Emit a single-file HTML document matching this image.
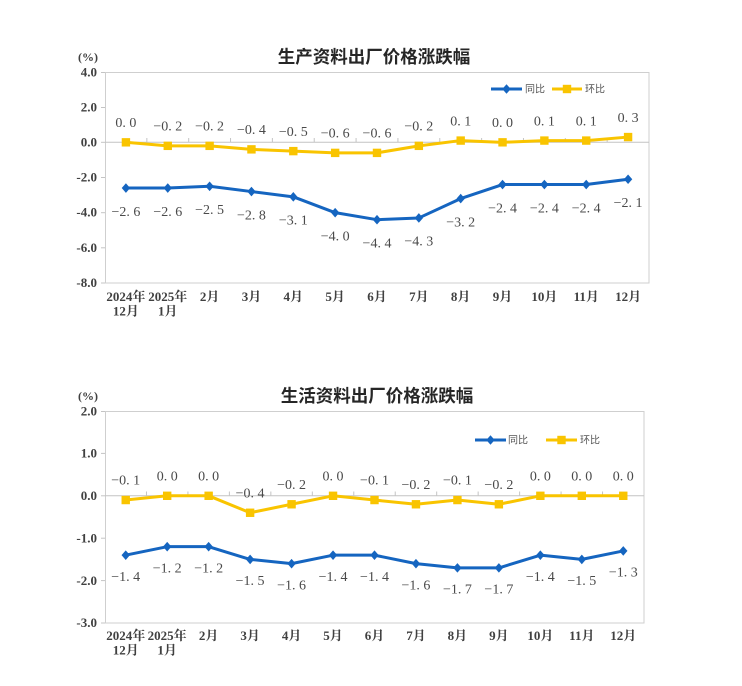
<!DOCTYPE html>
<html><head><meta charset="utf-8"><style>
html,body{margin:0;padding:0;background:#fff;}
svg{display:block;}
.yl{font-family:"Liberation Serif","Noto Serif CJK SC",serif;font-weight:bold;font-size:13px;fill:#404040;text-anchor:end;}
.xl{font-family:"Liberation Serif","Noto Serif CJK SC",serif;font-weight:bold;font-size:13px;fill:#404040;text-anchor:middle;}
.dl{font-family:"Liberation Serif","Noto Serif CJK SC",serif;font-size:14px;fill:#4a4a4a;text-anchor:middle;}
.tt{font-family:"Liberation Sans","Noto Sans CJK SC",sans-serif;font-weight:bold;font-size:17.5px;fill:#262626;text-anchor:middle;}
.pc{font-family:"Liberation Serif",serif;font-weight:bold;font-size:12px;fill:#404040;text-anchor:middle;}
.lg{font-family:"Liberation Sans","Noto Sans CJK SC",sans-serif;font-size:10px;fill:#555;}
</style></head><body>
<svg width="742" height="686" viewBox="0 0 742 686" xmlns="http://www.w3.org/2000/svg">
<defs>
<path id="dm" d="M0,-4.8 L4.2,0 L0,4.8 L-4.2,0 Z" fill="#1565c0"/>
<rect id="sq" x="-4.2" y="-4.2" width="8.4" height="8.4" fill="#f9c400"/>
</defs>
<rect width="742" height="686" fill="#fff"/>

<!-- ============ TOP CHART ============ -->
<text class="tt" x="374" y="63">生产资料出厂价格涨跌幅</text>
<text class="pc" x="88" y="61">(%)</text>
<rect x="105.5" y="72.5" width="543.5" height="210.5" fill="none" stroke="#cfcfcf" stroke-width="1"/>
<line x1="105" y1="142.3" x2="649" y2="142.3" stroke="#c4c4c4" stroke-width="1"/>
<g stroke="#c4c4c4" stroke-width="1">
<line x1="101" y1="72.5" x2="105" y2="72.5"/><line x1="101" y1="107.5" x2="105" y2="107.5"/><line x1="101" y1="142.3" x2="105" y2="142.3"/><line x1="101" y1="177.5" x2="105" y2="177.5"/><line x1="101" y1="212.7" x2="105" y2="212.7"/><line x1="101" y1="247.8" x2="105" y2="247.8"/><line x1="101" y1="283" x2="105" y2="283"/>
<line x1="146.85" y1="138" x2="146.85" y2="142.3"/><line x1="188.69" y1="138" x2="188.69" y2="142.3"/><line x1="230.54" y1="138" x2="230.54" y2="142.3"/><line x1="272.38" y1="138" x2="272.38" y2="142.3"/><line x1="314.23" y1="138" x2="314.23" y2="142.3"/><line x1="356.08" y1="138" x2="356.08" y2="142.3"/><line x1="397.92" y1="138" x2="397.92" y2="142.3"/><line x1="439.77" y1="138" x2="439.77" y2="142.3"/><line x1="481.62" y1="138" x2="481.62" y2="142.3"/><line x1="523.46" y1="138" x2="523.46" y2="142.3"/><line x1="565.31" y1="138" x2="565.31" y2="142.3"/><line x1="607.15" y1="138" x2="607.15" y2="142.3"/>
</g>
<text class="yl" x="97" y="76.5">4.0</text>
<text class="yl" x="97" y="111.5">2.0</text>
<text class="yl" x="97" y="146.5">0.0</text>
<text class="yl" x="97" y="181.5">-2.0</text>
<text class="yl" x="97" y="216.5">-4.0</text>
<text class="yl" x="97" y="252">-6.0</text>
<text class="yl" x="97" y="287">-8.0</text>

<polyline fill="none" stroke="#f9c400" stroke-width="3" stroke-linejoin="round" points="125.92,142.33 167.77,145.85 209.62,145.85 251.46,149.36 293.31,151.12 335.15,152.88 377,152.88 418.85,145.85 460.69,140.57 502.54,142.33 544.38,140.57 586.23,140.57 628.08,137.06"/>
<g>
<use href="#sq" x="125.92" y="142.33"/><use href="#sq" x="167.77" y="145.85"/><use href="#sq" x="209.62" y="145.85"/><use href="#sq" x="251.46" y="149.36"/><use href="#sq" x="293.31" y="151.12"/><use href="#sq" x="335.15" y="152.88"/><use href="#sq" x="377" y="152.88"/><use href="#sq" x="418.85" y="145.85"/><use href="#sq" x="460.69" y="140.57"/><use href="#sq" x="502.54" y="142.33"/><use href="#sq" x="544.38" y="140.57"/><use href="#sq" x="586.23" y="140.57"/><use href="#sq" x="628.08" y="137.06"/>
</g>
<polyline fill="none" stroke="#1565c0" stroke-width="3" stroke-linejoin="round" points="125.92,188.05 167.77,188.05 209.62,186.29 251.46,191.56 293.31,196.84 335.15,212.66 377,219.7 418.85,217.94 460.69,198.6 502.54,184.53 544.38,184.53 586.23,184.53 628.08,179.25"/>
<g>
<use href="#dm" x="125.92" y="188.05"/><use href="#dm" x="167.77" y="188.05"/><use href="#dm" x="209.62" y="186.29"/><use href="#dm" x="251.46" y="191.56"/><use href="#dm" x="293.31" y="196.84"/><use href="#dm" x="335.15" y="212.66"/><use href="#dm" x="377" y="219.7"/><use href="#dm" x="418.85" y="217.94"/><use href="#dm" x="460.69" y="198.6"/><use href="#dm" x="502.54" y="184.53"/><use href="#dm" x="544.38" y="184.53"/><use href="#dm" x="586.23" y="184.53"/><use href="#dm" x="628.08" y="179.25"/>
</g>
<!-- yellow labels -->
<text class="dl" x="125.92" y="127">0. 0</text>
<text class="dl" x="167.77" y="130.5">−0. 2</text>
<text class="dl" x="209.62" y="130.5">−0. 2</text>
<text class="dl" x="251.46" y="134.1">−0. 4</text>
<text class="dl" x="293.31" y="135.8">−0. 5</text>
<text class="dl" x="335.15" y="137.6">−0. 6</text>
<text class="dl" x="377" y="137.6">−0. 6</text>
<text class="dl" x="418.85" y="130.5">−0. 2</text>
<text class="dl" x="460.69" y="125.3">0. 1</text>
<text class="dl" x="502.54" y="127">0. 0</text>
<text class="dl" x="544.38" y="125.3">0. 1</text>
<text class="dl" x="586.23" y="125.3">0. 1</text>
<text class="dl" x="628.08" y="121.8">0. 3</text>
<!-- blue labels -->
<text class="dl" x="125.92" y="215.8">−2. 6</text>
<text class="dl" x="167.77" y="215.8">−2. 6</text>
<text class="dl" x="209.62" y="214.1">−2. 5</text>
<text class="dl" x="251.46" y="219.3">−2. 8</text>
<text class="dl" x="293.31" y="224.6">−3. 1</text>
<text class="dl" x="335.15" y="240.5">−4. 0</text>
<text class="dl" x="377" y="247.5">−4. 4</text>
<text class="dl" x="418.85" y="245.7">−4. 3</text>
<text class="dl" x="460.69" y="226.4">−3. 2</text>
<text class="dl" x="502.54" y="212.3">−2. 4</text>
<text class="dl" x="544.38" y="212.3">−2. 4</text>
<text class="dl" x="586.23" y="212.3">−2. 4</text>
<text class="dl" x="628.08" y="207.1">−2. 1</text>
<!-- legend -->
<line x1="491" y1="89" x2="522" y2="89" stroke="#1565c0" stroke-width="3"/>
<use href="#dm" x="506.5" y="89"/>
<text class="lg" x="525" y="92.5">同比</text>
<line x1="552" y1="89" x2="582" y2="89" stroke="#f9c400" stroke-width="3"/>
<use href="#sq" x="567" y="89"/>
<text class="lg" x="585" y="92.5">环比</text>
<!-- x labels -->
<text class="xl" x="125.92" y="301">2024年</text>
<text class="xl" x="125.92" y="315.5">12月</text>
<text class="xl" x="167.77" y="301">2025年</text>
<text class="xl" x="167.77" y="315.5">1月</text>
<text class="xl" x="209.62" y="301">2月</text>
<text class="xl" x="251.46" y="301">3月</text>
<text class="xl" x="293.31" y="301">4月</text>
<text class="xl" x="335.15" y="301">5月</text>
<text class="xl" x="377" y="301">6月</text>
<text class="xl" x="418.85" y="301">7月</text>
<text class="xl" x="460.69" y="301">8月</text>
<text class="xl" x="502.54" y="301">9月</text>
<text class="xl" x="544.38" y="301">10月</text>
<text class="xl" x="586.23" y="301">11月</text>
<text class="xl" x="628.08" y="301">12月</text>

<!-- ============ BOTTOM CHART ============ -->
<text class="tt" x="377" y="402">生活资料出厂价格涨跌幅</text>
<text class="pc" x="88" y="400">(%)</text>
<rect x="105.5" y="411.5" width="538.5" height="211.5" fill="none" stroke="#cfcfcf" stroke-width="1"/>
<line x1="105" y1="495.8" x2="644" y2="495.8" stroke="#c4c4c4" stroke-width="1"/>
<g stroke="#c4c4c4" stroke-width="1">
<line x1="101" y1="411.5" x2="105" y2="411.5"/><line x1="101" y1="453.4" x2="105" y2="453.4"/><line x1="101" y1="495.8" x2="105" y2="495.8"/><line x1="101" y1="538.2" x2="105" y2="538.2"/><line x1="101" y1="580.6" x2="105" y2="580.6"/><line x1="101" y1="623" x2="105" y2="623"/>
<line x1="146.46" y1="491.5" x2="146.46" y2="495.8"/><line x1="187.92" y1="491.5" x2="187.92" y2="495.8"/><line x1="229.38" y1="491.5" x2="229.38" y2="495.8"/><line x1="270.85" y1="491.5" x2="270.85" y2="495.8"/><line x1="312.31" y1="491.5" x2="312.31" y2="495.8"/><line x1="353.77" y1="491.5" x2="353.77" y2="495.8"/><line x1="395.23" y1="491.5" x2="395.23" y2="495.8"/><line x1="436.69" y1="491.5" x2="436.69" y2="495.8"/><line x1="478.15" y1="491.5" x2="478.15" y2="495.8"/><line x1="519.62" y1="491.5" x2="519.62" y2="495.8"/><line x1="561.08" y1="491.5" x2="561.08" y2="495.8"/><line x1="602.54" y1="491.5" x2="602.54" y2="495.8"/>
</g>
<text class="yl" x="97" y="415.5">2.0</text>
<text class="yl" x="97" y="457.5">1.0</text>
<text class="yl" x="97" y="500">0.0</text>
<text class="yl" x="97" y="542.5">-1.0</text>
<text class="yl" x="97" y="585">-2.0</text>
<text class="yl" x="97" y="627">-3.0</text>

<polyline fill="none" stroke="#f9c400" stroke-width="3" stroke-linejoin="round" points="125.73,500.04 167.19,495.8 208.65,495.8 250.12,512.76 291.58,504.28 333.04,495.8 374.5,500.04 415.96,504.28 457.42,500.04 498.88,504.28 540.35,495.8 581.81,495.8 623.27,495.8"/>
<g>
<use href="#sq" x="125.73" y="500.04"/><use href="#sq" x="167.19" y="495.8"/><use href="#sq" x="208.65" y="495.8"/><use href="#sq" x="250.12" y="512.76"/><use href="#sq" x="291.58" y="504.28"/><use href="#sq" x="333.04" y="495.8"/><use href="#sq" x="374.5" y="500.04"/><use href="#sq" x="415.96" y="504.28"/><use href="#sq" x="457.42" y="500.04"/><use href="#sq" x="498.88" y="504.28"/><use href="#sq" x="540.35" y="495.8"/><use href="#sq" x="581.81" y="495.8"/><use href="#sq" x="623.27" y="495.8"/>
</g>
<polyline fill="none" stroke="#1565c0" stroke-width="3" stroke-linejoin="round" points="125.73,555.16 167.19,546.68 208.65,546.68 250.12,559.4 291.58,563.64 333.04,555.16 374.5,555.16 415.96,563.64 457.42,567.88 498.88,567.88 540.35,555.16 581.81,559.4 623.27,550.92"/>
<g>
<use href="#dm" x="125.73" y="555.16"/><use href="#dm" x="167.19" y="546.68"/><use href="#dm" x="208.65" y="546.68"/><use href="#dm" x="250.12" y="559.4"/><use href="#dm" x="291.58" y="563.64"/><use href="#dm" x="333.04" y="555.16"/><use href="#dm" x="374.5" y="555.16"/><use href="#dm" x="415.96" y="563.64"/><use href="#dm" x="457.42" y="567.88"/><use href="#dm" x="498.88" y="567.88"/><use href="#dm" x="540.35" y="555.16"/><use href="#dm" x="581.81" y="559.4"/><use href="#dm" x="623.27" y="550.92"/>
</g>
<!-- yellow labels -->
<text class="dl" x="125.73" y="484.7">−0. 1</text>
<text class="dl" x="167.19" y="480.5">0. 0</text>
<text class="dl" x="208.65" y="480.5">0. 0</text>
<text class="dl" x="250.12" y="497.5">−0. 4</text>
<text class="dl" x="291.58" y="489">−0. 2</text>
<text class="dl" x="333.04" y="480.5">0. 0</text>
<text class="dl" x="374.5" y="484.7">−0. 1</text>
<text class="dl" x="415.96" y="489">−0. 2</text>
<text class="dl" x="457.42" y="484.7">−0. 1</text>
<text class="dl" x="498.88" y="489">−0. 2</text>
<text class="dl" x="540.35" y="480.5">0. 0</text>
<text class="dl" x="581.81" y="480.5">0. 0</text>
<text class="dl" x="623.27" y="480.5">0. 0</text>
<!-- blue labels -->
<text class="dl" x="125.73" y="581">−1. 4</text>
<text class="dl" x="167.19" y="572.5">−1. 2</text>
<text class="dl" x="208.65" y="572.5">−1. 2</text>
<text class="dl" x="250.12" y="585.2">−1. 5</text>
<text class="dl" x="291.58" y="589.4">−1. 6</text>
<text class="dl" x="333.04" y="581">−1. 4</text>
<text class="dl" x="374.5" y="581">−1. 4</text>
<text class="dl" x="415.96" y="589.4">−1. 6</text>
<text class="dl" x="457.42" y="593.7">−1. 7</text>
<text class="dl" x="498.88" y="593.7">−1. 7</text>
<text class="dl" x="540.35" y="581">−1. 4</text>
<text class="dl" x="581.81" y="585.2">−1. 5</text>
<text class="dl" x="623.27" y="576.7">−1. 3</text>
<!-- legend -->
<line x1="475" y1="440" x2="506" y2="440" stroke="#1565c0" stroke-width="3"/>
<use href="#dm" x="490.5" y="440"/>
<text class="lg" x="508" y="443.5">同比</text>
<line x1="546" y1="440" x2="577" y2="440" stroke="#f9c400" stroke-width="3"/>
<use href="#sq" x="561.5" y="440"/>
<text class="lg" x="580" y="443.5">环比</text>
<!-- x labels -->
<text class="xl" x="125.73" y="640">2024年</text>
<text class="xl" x="125.73" y="654.5">12月</text>
<text class="xl" x="167.19" y="640">2025年</text>
<text class="xl" x="167.19" y="654.5">1月</text>
<text class="xl" x="208.65" y="640">2月</text>
<text class="xl" x="250.12" y="640">3月</text>
<text class="xl" x="291.58" y="640">4月</text>
<text class="xl" x="333.04" y="640">5月</text>
<text class="xl" x="374.5" y="640">6月</text>
<text class="xl" x="415.96" y="640">7月</text>
<text class="xl" x="457.42" y="640">8月</text>
<text class="xl" x="498.88" y="640">9月</text>
<text class="xl" x="540.35" y="640">10月</text>
<text class="xl" x="581.81" y="640">11月</text>
<text class="xl" x="623.27" y="640">12月</text>
</svg>
</body></html>
